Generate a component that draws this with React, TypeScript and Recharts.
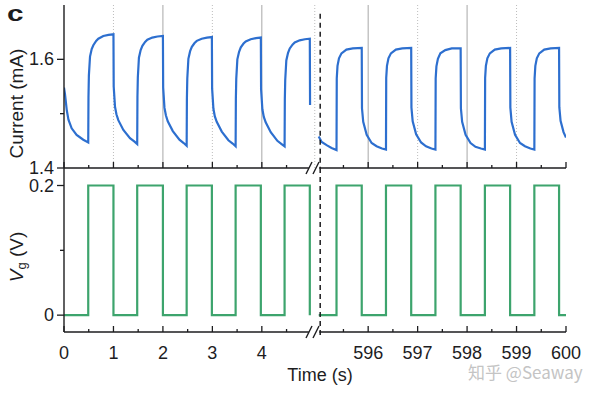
import React from 'react';
import { LineChart, Line, XAxis, YAxis, ReferenceLine, ReferenceDot, Label } from 'recharts';

// Current (mA) against time (s); left part 0-5 s, right part 595-600 s
const currentLeft: [number, number][] = [
  [0, 1.548], [0.02, 1.536], [0.055, 1.507], [0.09, 1.489], [0.155, 1.473], [0.255, 1.461], [0.39, 1.452], [0.49, 1.447],
  [0.495, 1.53], [0.503, 1.57], [0.526, 1.605], [0.56, 1.619], [0.593, 1.626], [0.65, 1.634], [0.694, 1.638], [0.795, 1.643], [0.9, 1.645], [1.0, 1.646],
  [1.005, 1.55], [1.031, 1.513], [1.06, 1.499], [1.098, 1.488], [1.2, 1.47], [1.334, 1.455], [1.42, 1.449], [1.48, 1.444],
  [1.485, 1.53], [1.493, 1.567], [1.515, 1.603], [1.55, 1.617], [1.585, 1.625], [1.64, 1.632], [1.685, 1.636], [1.785, 1.64], [1.89, 1.642], [2.0, 1.643],
  [2.005, 1.548], [2.031, 1.511], [2.06, 1.497], [2.098, 1.486], [2.2, 1.468], [2.334, 1.452], [2.42, 1.446], [2.48, 1.441],
  [2.485, 1.528], [2.493, 1.565], [2.515, 1.601], [2.55, 1.615], [2.585, 1.623], [2.64, 1.63], [2.685, 1.634], [2.785, 1.638], [2.89, 1.64], [2.99, 1.641],
  [2.995, 1.546], [3.021, 1.509], [3.05, 1.495], [3.088, 1.485], [3.19, 1.467], [3.324, 1.451], [3.41, 1.445], [3.47, 1.44],
  [3.475, 1.527], [3.483, 1.564], [3.505, 1.6], [3.54, 1.614], [3.575, 1.622], [3.63, 1.629], [3.675, 1.633], [3.775, 1.637], [3.88, 1.639], [3.98, 1.64],
  [3.985, 1.545], [4.011, 1.508], [4.04, 1.494], [4.078, 1.484], [4.18, 1.466], [4.314, 1.45], [4.4, 1.444], [4.46, 1.44],
  [4.465, 1.526], [4.473, 1.562], [4.495, 1.598], [4.53, 1.612], [4.565, 1.62], [4.62, 1.627], [4.665, 1.631], [4.765, 1.635], [4.87, 1.637], [4.97, 1.638],
  [4.975, 1.516],
];

const currentRight: [number, number][] = [
  [595.0, 1.458], [595.06, 1.448], [595.16, 1.442], [595.26, 1.437], [595.36, 1.433],
  [595.365, 1.565], [595.38, 1.588], [595.41, 1.602], [595.46, 1.611], [595.56, 1.618], [595.69, 1.62], [595.87, 1.621],
  [595.875, 1.51], [595.9, 1.485], [595.97, 1.461], [596.07, 1.446], [596.17, 1.44], [596.28, 1.436], [596.36, 1.434],
  [596.365, 1.566], [596.38, 1.588], [596.41, 1.602], [596.46, 1.611], [596.56, 1.618], [596.69, 1.62], [596.87, 1.621],
  [596.875, 1.511], [596.9, 1.486], [596.97, 1.462], [597.07, 1.447], [597.17, 1.44], [597.28, 1.436], [597.36, 1.434],
  [597.365, 1.565], [597.38, 1.587], [597.41, 1.601], [597.46, 1.611], [597.56, 1.617], [597.69, 1.62], [597.87, 1.62],
  [597.875, 1.51], [597.9, 1.485], [597.97, 1.461], [598.07, 1.446], [598.17, 1.439], [598.28, 1.436], [598.36, 1.434],
  [598.365, 1.566], [598.38, 1.588], [598.41, 1.602], [598.46, 1.611], [598.56, 1.618], [598.69, 1.62], [598.87, 1.621],
  [598.875, 1.511], [598.9, 1.485], [598.97, 1.461], [599.07, 1.446], [599.17, 1.44], [599.28, 1.436], [599.36, 1.434],
  [599.365, 1.565], [599.38, 1.588], [599.41, 1.602], [599.46, 1.611], [599.56, 1.618], [599.69, 1.62], [599.86, 1.621],
  [599.865, 1.512], [599.89, 1.487], [599.95, 1.466], [600.0, 1.456],
];

// gate voltage Vg (V), square wave
const vgLeft: [number, number][] = [
  [0, 0], [0.49, 0], [0.49, 0.2], [1.0, 0.2], [1.0, 0], [1.48, 0], [1.48, 0.2], [2.0, 0.2], [2.0, 0],
  [2.48, 0], [2.48, 0.2], [2.99, 0.2], [2.99, 0], [3.47, 0], [3.47, 0.2], [3.98, 0.2], [3.98, 0],
  [4.46, 0], [4.46, 0.2], [4.97, 0.2], [4.97, 0],
];

const vgRight: [number, number][] = [
  [595.0, 0], [595.36, 0], [595.36, 0.2], [595.87, 0.2], [595.87, 0], [596.36, 0], [596.36, 0.2], [596.87, 0.2], [596.87, 0],
  [597.36, 0], [597.36, 0.2], [597.87, 0.2], [597.87, 0], [598.36, 0], [598.36, 0.2], [598.87, 0.2], [598.87, 0],
  [599.36, 0], [599.36, 0.2], [599.86, 0.2], [599.86, 0], [600, 0],
];

const xMajorTicks = [0, 1, 2, 3, 4, 596, 597, 598, 599, 600];
const xMinorTicks = [0.5, 1.5, 2.5, 3.5, 4.5, 595.5, 596.5, 597.5, 598.5, 599.5];
const currentTicks = [1.4, 1.6];
const currentMinorTicks = [1.5];
const vgTicks = [0, 0.2];
const vgMinorTicks = [0.1];
const gridSolid = [2, 4, 596, 598];
const gridDotted = [1, 3, 5.07, 597, 599];
const dashedMarker = 595.03;

// broken time axis: 595 s sits just right of 5 s
const GAP_START = 595;
const SHIFT = 5.15;
const pos = (t: number) => (t >= GAP_START ? t - GAP_START + SHIFT : t);
const X_MAX = pos(600);
const BREAK_POS = 5.055;

const toPoints = (arr: [number, number][]) => arr.map(([t, v]) => ({ x: pos(t), y: v }));

const xTickPos = [...xMajorTicks, ...xMinorTicks].map(pos).sort((a, b) => a - b);
const isMajorX = (p: number) => xMajorTicks.some((t) => Math.abs(pos(t) - p) < 1e-6);
const xLabel = (p: number) => String(Math.round(p > SHIFT - 0.01 ? p - SHIFT + GAP_START : p));

const INK = '#1d1d1f';
const FONT = '"Liberation Sans", Arial, sans-serif';
const BLUE = '#2d6fcf';
const GREEN = '#3da46d';

const XTick = (props: any) => {
  const { x, y, payload, withLabel } = props;
  const major = isMajorX(payload.value);
  return (
    <g>
      <line x1={x} x2={x} y1={y} y2={y - (major ? 6 : 3)} stroke={INK} strokeWidth={1.3} />
      {withLabel && major && (
        <text x={x} y={y + 27} textAnchor="middle" fontSize={18} fill={INK} fontFamily={FONT}>
          {xLabel(payload.value)}
        </text>
      )}
    </g>
  );
};

const YTick = (props: any) => {
  const { x, y, payload, labelled, fmt } = props;
  const major = labelled.some((v: number) => Math.abs(v - payload.value) < 1e-6);
  return (
    <g>
      <line x1={x} x2={x - (major ? 7 : 4)} y1={y} y2={y} stroke={INK} strokeWidth={1.3} />
      {major && (
        <text x={x - 10} y={y} textAnchor="end" dominantBaseline="central" fontSize={18} fill={INK} fontFamily={FONT}>
          {fmt(payload.value)}
        </text>
      )}
    </g>
  );
};

const BreakMark = (props: any) => {
  const { cx, cy } = props;
  return (
    <g stroke={INK} strokeWidth={1.4}>
      <line x1={cx - 8} y1={cy + 6} x2={cx - 2} y2={cy - 6} />
      <line x1={cx - 1} y1={cy + 6} x2={cx + 5} y2={cy - 6} />
    </g>
  );
};

const axisPieces = (yv: number) => [
  <ReferenceLine key="a1" segment={[{ x: 0, y: yv }, { x: 4.95, y: yv }]} stroke={INK} strokeWidth={1.4} ifOverflow="visible" />,
  <ReferenceLine key="a2" segment={[{ x: 5.16, y: yv }, { x: X_MAX, y: yv }]} stroke={INK} strokeWidth={1.4} ifOverflow="visible" />,
  <ReferenceDot key="b" x={BREAK_POS} y={yv} r={1} ifOverflow="visible" shape={(p: any) => <BreakMark {...p} />} />,
];

const CUR_DOMAIN: [number, number] = [1.4, 1.7];
const VG_DOMAIN: [number, number] = [-0.026, 0.227];

export default function App() {
  return (
    <div style={{ position: 'absolute', left: 0, top: 0, width: 603, height: 397, background: '#fff', fontFamily: FONT, overflow: 'hidden' }}>
      <div style={{ position: 'absolute', left: 7, top: 3, fontSize: 22, lineHeight: '22px', fontWeight: 900, color: INK, transform: 'scaleX(1.35)', transformOrigin: 'left' }}>c</div>

      <div style={{ position: 'absolute', left: 0, top: 0 }}>
        <LineChart width={603} height={185} margin={{ top: 5, right: 37, bottom: 12, left: 9 }}>
          <XAxis
            type="number"
            dataKey="x"
            domain={[0, X_MAX]}
            ticks={xTickPos}
            interval={0}
            tickSize={0}
            tickMargin={0}
            height={5}
            axisLine={false}
            allowDataOverflow
            tick={(p: any) => <XTick {...p} />}
          />
          <YAxis
            type="number"
            domain={CUR_DOMAIN}
            ticks={[...currentTicks, ...currentMinorTicks].sort()}
            interval={0}
            width={55}
            tickSize={0}
            tickMargin={0}
            allowDataOverflow
            axisLine={{ stroke: INK, strokeWidth: 1.4 }}
            tick={(p: any) => <YTick {...p} labelled={currentTicks} fmt={(v: number) => v.toFixed(1)} />}
          >
            <Label
              content={(lp: any) => {
                const vb = lp.viewBox;
                const cx = vb.x + 7;
                const cy = vb.y + vb.height / 2 + 17;
                return (
                  <text x={cx} y={cy} transform={`rotate(-90 ${cx} ${cy})`} textAnchor="middle" dominantBaseline="central" fontSize={19} fill={INK} fontFamily={FONT}>
                    Current (mA)
                  </text>
                );
              }}
            />
          </YAxis>
          {gridSolid.map((t) => (
            <ReferenceLine key={`gs${t}`} x={pos(t)} stroke="#a8a8a8" strokeWidth={1} />
          ))}
          {gridDotted.map((t) => (
            <ReferenceLine key={`gd${t}`} x={pos(t)} stroke="#bdbdbd" strokeWidth={1} strokeDasharray="1 2" />
          ))}
          <Line data={toPoints(currentLeft)} dataKey="y" type="linear" stroke={BLUE} strokeWidth={2.2} dot={false} isAnimationActive={false} />
          <Line data={toPoints(currentRight)} dataKey="y" type="linear" stroke={BLUE} strokeWidth={2.2} dot={false} isAnimationActive={false} />
          <ReferenceLine
            segment={[{ x: pos(dashedMarker), y: 1.684 }, { x: pos(dashedMarker), y: 1.4 }]}
            stroke={INK}
            strokeWidth={1.5}
            strokeDasharray="5 4"
            ifOverflow="visible"
          />
          {axisPieces(CUR_DOMAIN[0])}
        </LineChart>
      </div>

      <div style={{ position: 'absolute', left: 0, top: 160 }}>
        <LineChart width={603} height={237} margin={{ top: 8, right: 37, bottom: 35, left: 9 }}>
          <XAxis
            type="number"
            dataKey="x"
            domain={[0, X_MAX]}
            ticks={xTickPos}
            interval={0}
            tickSize={0}
            tickMargin={0}
            height={30}
            axisLine={false}
            allowDataOverflow
            tick={(p: any) => <XTick {...p} withLabel />}
          >
            <Label
              content={(lp: any) => {
                const vb = lp.viewBox;
                return (
                  <text x={vb.x + vb.width / 2 + 5} y={vb.y + 49} textAnchor="middle" fontSize={18} fill={INK} fontFamily={FONT}>
                    Time (s)
                  </text>
                );
              }}
            />
          </XAxis>
          <YAxis
            type="number"
            domain={VG_DOMAIN}
            ticks={[...vgTicks, ...vgMinorTicks].sort()}
            interval={0}
            width={55}
            tickSize={0}
            tickMargin={0}
            allowDataOverflow
            axisLine={{ stroke: INK, strokeWidth: 1.4 }}
            tick={(p: any) => <YTick {...p} labelled={vgTicks} fmt={(v: number) => (v === 0 ? '0' : v.toFixed(1))} />}
          >
            <Label
              content={(lp: any) => {
                const vb = lp.viewBox;
                const cx = vb.x + 7;
                const cy = vb.y + vb.height / 2 + 7;
                return (
                  <text x={cx} y={cy} transform={`rotate(-90 ${cx} ${cy})`} textAnchor="middle" dominantBaseline="central" fontSize={19} fill={INK} fontFamily={FONT}>
                    <tspan fontStyle="italic">V</tspan>
                    <tspan fontSize={13} dy={5}>g</tspan>
                    <tspan dy={-5}> (V)</tspan>
                  </text>
                );
              }}
            />
          </YAxis>
          <Line data={toPoints(vgLeft)} dataKey="y" type="linear" stroke={GREEN} strokeWidth={2.2} dot={false} isAnimationActive={false} />
          <Line data={toPoints(vgRight)} dataKey="y" type="linear" stroke={GREEN} strokeWidth={2.2} dot={false} isAnimationActive={false} />
          <ReferenceLine
            segment={[{ x: pos(dashedMarker), y: VG_DOMAIN[1] }, { x: pos(dashedMarker), y: -0.035 }]}
            stroke={INK}
            strokeWidth={1.5}
            strokeDasharray="5 4"
            ifOverflow="visible"
          />
          {axisPieces(VG_DOMAIN[0])}
        </LineChart>
      </div>

      <div style={{ position: 'absolute', left: 468, top: 362, fontSize: 17, lineHeight: '20px', color: '#c4c4c4', fontFamily: '"Noto Sans CJK SC", "Noto Sans", sans-serif', whiteSpace: 'nowrap' }}>
        知乎 @Seaway
      </div>
    </div>
  );
}
